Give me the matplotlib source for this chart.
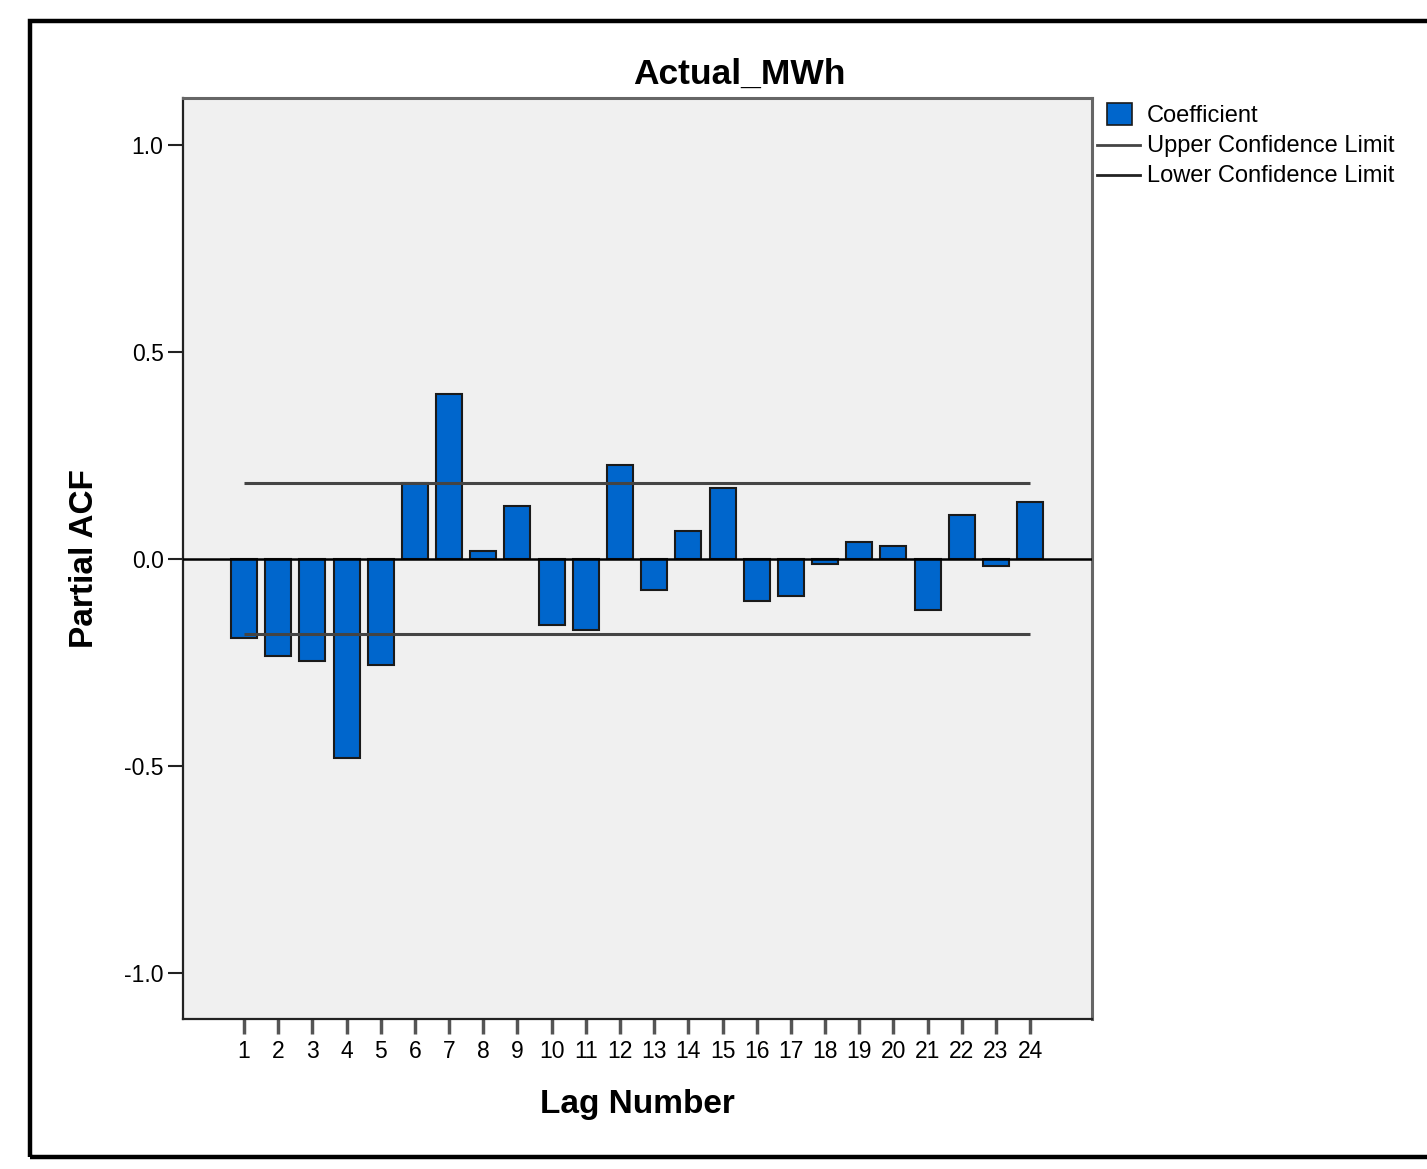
import matplotlib
matplotlib.use('Agg')
import matplotlib.pyplot as plt
from matplotlib.patches import Rectangle
from matplotlib.lines import Line2D
import numpy as np

plt.rcParams['font.family'] = ['Liberation Sans', 'DejaVu Sans']

# Partial ACF values
lags = np.arange(1, 25)
pacf = [-0.191, -0.234, -0.246, -0.481, -0.256, 0.184, 0.399, 0.019, 0.128,
        -0.159, -0.171, 0.227, -0.075, 0.068, 0.171, -0.101, -0.089, -0.012,
        0.041, 0.031, -0.123, 0.106, -0.017, 0.138]
upper_cl = 0.183
lower_cl = -0.182
yticks = [-1.0, -0.5, 0.0, 0.5, 1.0]
ytick_labels = ['-1.0', '-0.5', '0.0', '0.5', '1.0']

W, H = 1427, 1169
fig = plt.figure(figsize=(W / 100, H / 100), dpi=100)
fig.patch.set_facecolor('white')

# axes box in pixel terms
ax = fig.add_axes([183 / W, 1 - 1019 / H, 909 / W, 921 / H])
ax.set_facecolor('#F0F0F0')

bar_color = '#0066CC'
ax.bar(lags, pacf, width=0.76, color=bar_color, edgecolor='#1a1a1a',
       linewidth=1.5, zorder=2)
ax.axhline(0, color='black', lw=1.8, zorder=3)
ax.hlines([upper_cl, lower_cl], lags[0], lags[-1], color='#444444', lw=2.2, zorder=4)

ax.set_xlim(-0.785, 25.81)
ax.set_ylim(-1.111, 1.113)
ax.set_xticks(lags)
ax.set_xticklabels([str(l) for l in lags], fontsize=16.5)
ax.set_yticks(yticks)
ax.set_yticklabels(ytick_labels, fontsize=16.5)
ax.tick_params(axis='x', length=11, width=2.5, color='#555555', pad=4)
ax.tick_params(axis='y', length=11, width=1.5, color='#222222', pad=3)

for side in ['left', 'bottom']:
    ax.spines[side].set_color('#222222')
    ax.spines[side].set_linewidth(1.6)
for side in ['top', 'right']:
    ax.spines[side].set_color('#666666')
    ax.spines[side].set_linewidth(2.2)

ax.set_xlabel('Lag Number', fontsize=24, fontweight='bold')
ax.xaxis.set_label_coords(0.5, (1019 - 1104) / 921)
ax.xaxis.label.set_va('center')
ax.set_ylabel('Partial ACF', fontsize=24, fontweight='bold')
ax.yaxis.set_label_coords((85 - 183) / 909, 0.5)
ax.yaxis.label.set_va('center')

fig.text(739 / W, 1 - 74 / H, 'Actual_MWh', fontsize=25.5, fontweight='bold',
         ha='center', va='center')

# legend drawn to match the SPSS layout
fig.add_artist(Rectangle((1107 / W, 1 - 125 / H), 25 / W, 22 / H,
                         facecolor=bar_color, edgecolor='#1a1a1a', lw=1.2))
fig.add_artist(Line2D([1097 / W, 1140 / W], [1 - 145 / H] * 2, color='#444444', lw=2))
fig.add_artist(Line2D([1097 / W, 1140 / W], [1 - 175 / H] * 2, color='#222222', lw=2))
for y, txt in [(116, 'Coefficient'), (146, 'Upper Confidence Limit'),
               (176, 'Lower Confidence Limit')]:
    fig.text(1147 / W, 1 - y / H, txt, fontsize=17, ha='left', va='center')

# outer frame
fig.add_artist(Rectangle((30 / W, 1 - 1157 / H), 1.2, (1157 - 21) / H,
                         fill=False, edgecolor='black', lw=3.2, clip_on=False))

fig.savefig('out.png', dpi=100)
